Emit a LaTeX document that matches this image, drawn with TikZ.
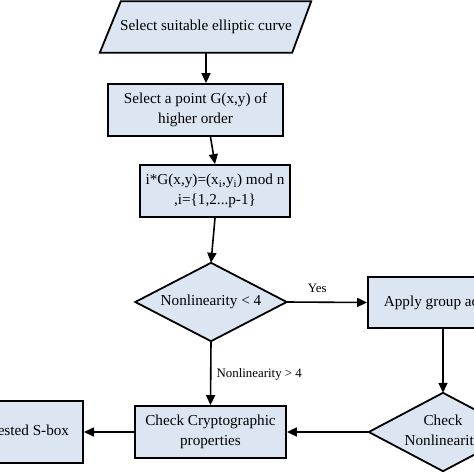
\documentclass[tikz,border=0pt]{standalone}
\usepackage{fontspec}
\setmainfont{Liberation Serif}
\usetikzlibrary{arrows.meta,calc}
\definecolor{boxfill}{RGB}{220,230,242}
\begin{document}
\begin{tikzpicture}[x=1pt,y=-1pt,
  txt/.style={inner sep=0pt, align=center, font=\fontsize{15.2}{19.5}\selectfont},
  boxnode/.style={txt, draw=black, fill=boxfill, line width=1.8pt},
  shapeline/.style={draw=black, fill=boxfill, line width=1.8pt, line join=miter},
  arr/.style={line width=1.6pt, -{Triangle[length=10pt,width=9pt]}},
  lbl/.style={inner sep=0pt, font=\fontsize{12.9}{15}\selectfont}
]
\useasboundingbox (0,0) rectangle (474,474);
\clip (0,0) rectangle (474,474);
\fill[white] (0,0) rectangle (474,474);

% holders for shapes drawn by hand
\node[txt, minimum width=191pt, minimum height=51pt] (sel) at (206,27) {};
\node[txt, minimum width=151pt, minimum height=78pt] (d1) at (211,302) {};
\node[txt, minimum width=148pt, minimum height=78pt] (d2) at (443,432) {};

\draw[shapeline] ($(sel.south west)+(-10.5,0)$) -- ($(sel.north west)+(10.5,0)$)
  -- ($(sel.north east)+(9.5,0)$) -- ($(sel.south east)+(-9.5,0)$) -- cycle;
\draw[shapeline] (d1.west) -- (d1.north) -- (d1.east) -- (d1.south) -- cycle;
\draw[shapeline] (d2.west) -- (d2.north) -- (d2.east) -- (d2.south) -- cycle;

\node[txt] at (sel.center) {Select suitable elliptic curve};
\node[txt] at (d1.center) {Nonlinearity \textless{} 4};
\node[txt] at (d2.center) {Check\\Nonlinearity};

\node[boxnode, minimum width=175pt, minimum height=52pt] (b2) at (195.5,110)
  {Select a point G(x,y) of\\higher order};
\node[boxnode, minimum width=150pt, minimum height=52pt] (b3) at (215,191)
  {i*G(x,y)=(x\textsubscript{i},y\textsubscript{i}) mod n\\,i=\{1,2...p-1\}};
\node[boxnode, minimum width=150pt, minimum height=51pt] (b4) at (443,302.5)
  {Apply group action};
\node[boxnode, minimum width=151pt, minimum height=52pt] (b5) at (210.5,432)
  {Check Cryptographic\\properties};
\node[boxnode, minimum height=62pt, inner xsep=14pt, anchor=east] (b6) at (84,432)
  {Suggested S-box};

\draw[arr] (sel.south) -- (sel.south |- b2.north);
\draw[arr] ([xshift=15pt]b2.south) -- (b3.north);
\draw[arr] (b3.south) -- (d1.north);
\draw[arr] (d1.east) -- node[lbl, pos=0.38, above=9pt] (yes) {Yes} (b4.west);
\draw[arr] (b4.south) -- (d2.north);
\draw[arr] (d2.west) -- (b5.east);
\draw[arr] (d1.south) -- node[lbl, right=5pt, pos=0.52] (no) {Nonlinearity \textgreater{} 4} (b5.north);
\draw[arr] (b5.west) -- (b6.east);
\end{tikzpicture}
\end{document}
